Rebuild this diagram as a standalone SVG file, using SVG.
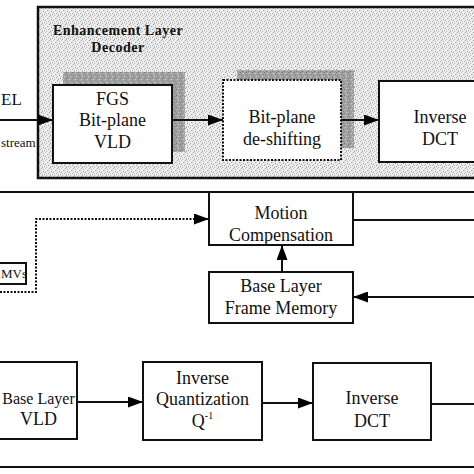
<svg xmlns="http://www.w3.org/2000/svg" width="474" height="474" viewBox="0 0 474 474">
<defs>
<pattern id="stip" width="8" height="8" patternUnits="userSpaceOnUse">
<rect width="8" height="8" fill="#eeeeee"/>
<rect x="1" y="0" width="1" height="1" fill="#8f8f8f"/>
<rect x="5" y="0" width="1" height="1" fill="#c4c4c4"/>
<rect x="3" y="1" width="1" height="1" fill="#b5b5b5"/>
<rect x="7" y="2" width="1" height="1" fill="#9c9c9c"/>
<rect x="0" y="2" width="1" height="1" fill="#c8c8c8"/>
<rect x="3" y="3" width="1" height="1" fill="#888888"/>
<rect x="5" y="4" width="1" height="1" fill="#a8a8a8"/>
<rect x="1" y="4" width="1" height="1" fill="#bdbdbd"/>
<rect x="0" y="5" width="1" height="1" fill="#a0a0a0"/>
<rect x="6" y="5" width="1" height="1" fill="#c2c2c2"/>
<rect x="4" y="6" width="1" height="1" fill="#939393"/>
<rect x="2" y="6" width="1" height="1" fill="#c9c9c9"/>
<rect x="6" y="7" width="1" height="1" fill="#b0b0b0"/>
<rect x="2" y="7" width="1" height="1" fill="#9e9e9e"/>
</pattern>
<pattern id="shade" width="6" height="6" patternUnits="userSpaceOnUse">
<rect width="6" height="6" fill="#a2a2a2"/>
<rect x="0" y="0" width="1" height="1" fill="#707070"/>
<rect x="3" y="1" width="1" height="1" fill="#d0d0d0"/>
<rect x="1" y="3" width="1" height="1" fill="#7c7c7c"/>
<rect x="4" y="4" width="1" height="1" fill="#cccccc"/>
<rect x="2" y="5" width="1" height="1" fill="#767676"/>
<rect x="5" y="2" width="1" height="1" fill="#888888"/>
</pattern>
<marker id="arr" markerWidth="15" markerHeight="11" refX="15" refY="5.5" orient="auto" markerUnits="userSpaceOnUse">
<path d="M0,0 L15,5.5 L0,11 Z" fill="#000"/>
</marker>
</defs>
<style>
.box{fill:#fff;stroke:#111;stroke-width:2}
.dot{stroke-dasharray:2,1.5}
.t{font-family:"Liberation Serif",serif;font-size:18px;text-anchor:middle;fill:#111}
.b{font-family:"Liberation Serif",serif;font-size:14px;font-weight:bold;text-anchor:middle;fill:#111;letter-spacing:0.5px}
.c{fill:none;stroke:#111;stroke-width:2}
</style>
<rect width="474" height="474" fill="#fff"/>

<g id="enhancement-layer">
<rect x="38" y="7" width="450" height="171" fill="url(#stip)" stroke="#111" stroke-width="2.5"/>
<text class="b" x="118" y="35">Enhancement Layer</text>
<text class="b" x="118" y="52">Decoder</text>
</g>

<g id="fgs-vld">
<rect x="63" y="72" width="122" height="80" fill="url(#shade)"/>
<rect class="box" x="53" y="85" width="119" height="78"/>
<text class="t" x="112.5" y="105">FGS</text>
<text class="t" x="112.5" y="126">Bit-plane</text>
<text class="t" x="112.5" y="148">VLD</text>
</g>

<g id="deshifting">
<rect x="237" y="70" width="117" height="78" fill="url(#shade)"/>
<rect class="box dot" x="223" y="80" width="118" height="80"/>
<text class="t" x="282" y="123">Bit-plane</text>
<text class="t" x="282" y="145">de-shifting</text>
</g>

<g id="el-idct">
<rect class="box" x="379" y="81" width="122" height="81"/>
<text class="t" x="440" y="123">Inverse</text>
<text class="t" x="440" y="145">DCT</text>
</g>

<g id="el-input">
<text class="t" style="font-size:17px;text-anchor:start" x="1" y="105">EL</text>
<text class="t" style="font-size:13px;text-anchor:start" x="1" y="147">stream</text>
</g>

<g id="motion-compensation">
<rect class="box" x="209" y="192" width="144" height="53"/>
<text class="t" x="281" y="219">Motion</text>
<text class="t" x="281" y="241">Compensation</text>
</g>

<g id="frame-memory">
<rect class="box" x="209" y="272" width="144" height="51"/>
<text class="t" x="281" y="292">Base Layer</text>
<text class="t" x="281" y="314">Frame Memory</text>
</g>

<g id="mvs">
<rect class="box" x="-20" y="263" width="46" height="21"/>
<text class="t" style="font-size:13px;text-anchor:start" x="1" y="278">MVs</text>
</g>

<g id="bl-vld">
<rect class="box" x="-37" y="362" width="114" height="77"/>
<text class="t" style="font-size:16px" x="38.5" y="404">Base Layer</text>
<text class="t" x="38.5" y="425">VLD</text>
</g>

<g id="inverse-quantization">
<rect class="box" x="143" y="362" width="119" height="78"/>
<text class="t" x="202.5" y="384">Inverse</text>
<text class="t" x="202.5" y="405">Quantization</text>
<text class="t" x="202.5" y="427">Q<tspan dy="-8" style="font-size:10px">-1</tspan></text>
</g>

<g id="bl-idct">
<rect class="box" x="313" y="363" width="118" height="77"/>
<text class="t" x="372" y="404">Inverse</text>
<text class="t" x="372" y="427">DCT</text>
</g>

<g id="connectors">
<line class="c" x1="0" y1="120" x2="53" y2="120" marker-end="url(#arr)"/>
<line class="c" x1="172" y1="120" x2="223" y2="120" marker-end="url(#arr)"/>
<line class="c" x1="341" y1="120" x2="379" y2="120" marker-end="url(#arr)"/>
<line class="c" x1="0" y1="192" x2="474" y2="192"/>
<line class="c" x1="353" y1="220" x2="474" y2="220"/>
<line class="c" x1="282" y1="272" x2="282" y2="245" marker-end="url(#arr)"/>
<line class="c" x1="474" y1="297" x2="353" y2="297" marker-end="url(#arr)"/>
<polyline class="c dot" points="0,292 36,292 36,219 209,219" marker-end="url(#arr)"/>
<line class="c" x1="77" y1="402" x2="143" y2="402" marker-end="url(#arr)"/>
<line class="c" x1="262" y1="403" x2="313" y2="403" marker-end="url(#arr)"/>
<line class="c" x1="431" y1="404" x2="474" y2="404"/>
<line class="c" x1="0" y1="467" x2="474" y2="467"/>
</g>
</svg>
